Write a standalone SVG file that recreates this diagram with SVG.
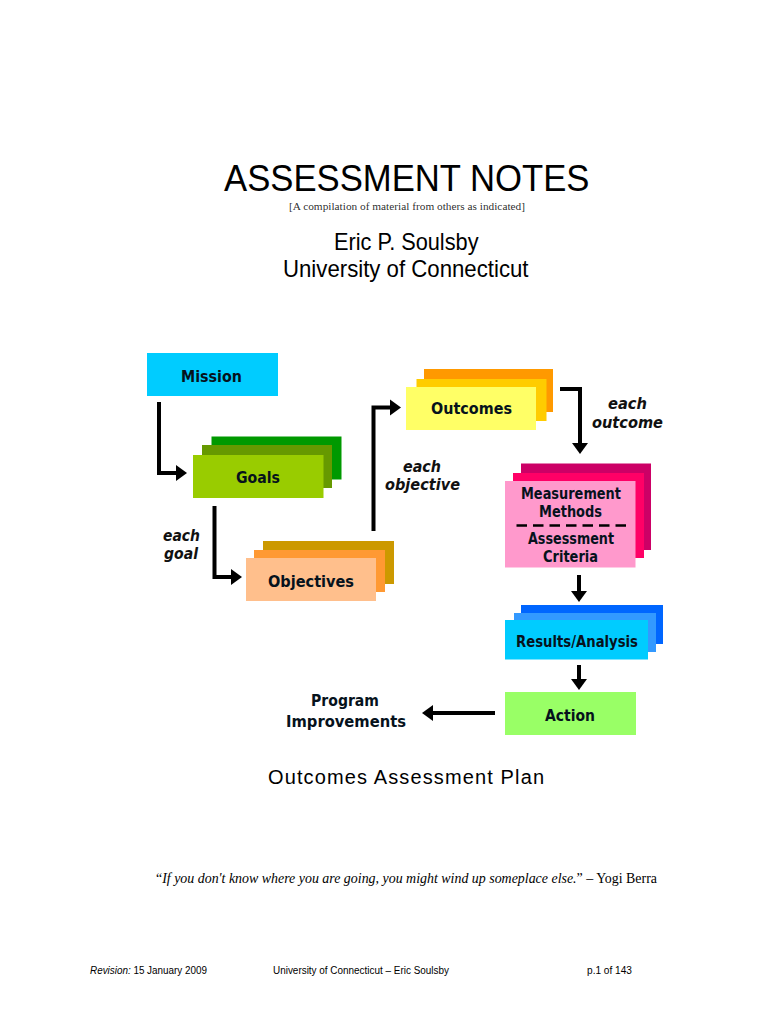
<svg xmlns="http://www.w3.org/2000/svg" width="768" height="1024" viewBox="0 0 768 1024">
<style>
.s{font-family:"Liberation Sans",Arial,sans-serif;fill:#000}
.t{font-family:"Liberation Serif","Times New Roman",serif;fill:#000}
.l{font-family:"DejaVu Sans",Verdana,sans-serif;font-weight:700;font-size:15px;fill:#06121c;text-anchor:middle}
.e{font-family:"DejaVu Sans",Verdana,sans-serif;font-weight:700;font-style:italic;font-size:15px;fill:#111;text-anchor:middle}
.c{fill:none;stroke:#000;stroke-width:4}
</style>
<defs><marker id="a" markerUnits="userSpaceOnUse" markerWidth="12" markerHeight="18" refX="1" refY="9" orient="auto"><path d="M0 1L11 9L0 17Z" fill="#000"/></marker></defs>
<rect width="768" height="1024" fill="#fff"/>
<g id="page-text">
<text class="s" x="224" y="191" font-size="36" textLength="365.500" lengthAdjust="spacingAndGlyphs">ASSESSMENT NOTES</text>
<text class="t" x="289" y="210" font-size="11" fill-opacity=".85" textLength="236" lengthAdjust="spacingAndGlyphs">[A compilation of material from others as indicated]</text>
<text class="s" x="334" y="250" font-size="24" textLength="144.500" lengthAdjust="spacingAndGlyphs">Eric P. Soulsby</text>
<text class="s" x="283" y="277" font-size="24" textLength="245.500" lengthAdjust="spacingAndGlyphs">University of Connecticut</text>
<text class="s" x="268" y="784" font-size="20" textLength="276">Outcomes Assessment Plan</text>
<text class="t" x="156" y="883" font-size="14" textLength="501" lengthAdjust="spacingAndGlyphs">“<tspan font-style="italic">If you don't know where you are going, you might wind up someplace else.</tspan>” – Yogi Berra</text>
<text class="s" x="90" y="974" font-size="10" textLength="117" lengthAdjust="spacingAndGlyphs"><tspan font-style="italic">Revision:</tspan> 15 January 2009</text>
<text class="s" x="273" y="974" font-size="10" textLength="176" lengthAdjust="spacingAndGlyphs">University of Connecticut – Eric Soulsby</text>
<text class="s" x="587" y="974" font-size="10" textLength="45" lengthAdjust="spacingAndGlyphs">p.1 of 143</text>
</g>
<g id="connectors">
<path class="c" d="M159 402V473H177" marker-end="url(#a)"/>
<path class="c" d="M214.500 506V577H232" marker-end="url(#a)"/>
<path class="c" d="M373.500 531V407.500H391" marker-end="url(#a)"/>
<path class="c" d="M560 389H580V444" marker-end="url(#a)"/>
<path class="c" d="M579 575V592" marker-end="url(#a)"/>
<path class="c" d="M579 665V680" marker-end="url(#a)"/>
<path class="c" d="M495 713H432" marker-end="url(#a)"/>
</g>
<g id="mission"><rect x="147" y="353" width="131" height="43" fill="#00ccff"/><text class="l" x="211.500" y="381.500" textLength="61" lengthAdjust="spacingAndGlyphs">Mission</text></g>
<g id="goals"><rect x="211.500" y="436.500" width="130" height="43" fill="#009900"/><rect x="202" y="445" width="130" height="43" fill="#669900"/><rect x="193" y="455" width="130.500" height="43" fill="#99cc00"/><text class="l" x="258" y="482.500" textLength="44" lengthAdjust="spacingAndGlyphs">Goals</text></g>
<g id="objectives"><rect x="263" y="541" width="131" height="43" fill="#cc9900"/><rect x="254" y="550" width="131" height="42" fill="#ff9933"/><rect x="246" y="558" width="130" height="43" fill="#ffbf8c"/><text class="l" x="311" y="587" textLength="86" lengthAdjust="spacingAndGlyphs">Objectives</text></g>
<g id="outcomes"><rect x="424" y="369" width="129" height="43" fill="#ff9900"/><rect x="416.500" y="379" width="130" height="42" fill="#ffcc00"/><rect x="406" y="387" width="130" height="43" fill="#ffff66"/><text class="l" x="471.500" y="414" textLength="81" lengthAdjust="spacingAndGlyphs">Outcomes</text></g>
<g id="measurement"><rect x="521" y="463.500" width="130" height="86.500" fill="#cc0066"/><rect x="513" y="473" width="131" height="85" fill="#ff0066"/><rect x="505" y="481" width="130.500" height="86.500" fill="#ff99cc"/>
<text class="l" x="571" y="499" textLength="100" lengthAdjust="spacingAndGlyphs">Measurement</text><text class="l" x="570.500" y="517" textLength="63" lengthAdjust="spacingAndGlyphs">Methods</text>
<path d="M516.500 525.500H626" stroke="#000" stroke-width="2.500" stroke-dasharray="10.500 6"/>
<text class="l" x="571" y="544" textLength="86" lengthAdjust="spacingAndGlyphs">Assessment</text><text class="l" x="570.500" y="562" textLength="55" lengthAdjust="spacingAndGlyphs">Criteria</text></g>
<g id="results"><rect x="521" y="605" width="142" height="39" fill="#0066ff"/><rect x="514" y="613" width="142" height="39" fill="#3399ff"/><rect x="505" y="620" width="143" height="39.500" fill="#00ccff"/><text class="l" x="577" y="647" textLength="122" lengthAdjust="spacingAndGlyphs">Results/Analysis</text></g>
<g id="action"><rect x="505" y="692" width="131" height="43" fill="#99ff66"/><text class="l" x="570" y="721" textLength="50" lengthAdjust="spacingAndGlyphs">Action</text></g>
<g id="improvements"><text class="l" x="345" y="706" textLength="68" lengthAdjust="spacingAndGlyphs">Program</text><text class="l" x="346" y="727" textLength="120" lengthAdjust="spacingAndGlyphs">Improvements</text></g>
<g id="labels">
<text class="e" x="181.500" y="541" textLength="37" lengthAdjust="spacingAndGlyphs">each</text><text class="e" x="181" y="558.500" textLength="34" lengthAdjust="spacingAndGlyphs">goal</text>
<text class="e" x="422" y="472" textLength="38" lengthAdjust="spacingAndGlyphs">each</text><text class="e" x="422.500" y="490" textLength="75" lengthAdjust="spacingAndGlyphs">objective</text>
<text class="e" x="627.500" y="409" textLength="39" lengthAdjust="spacingAndGlyphs">each</text><text class="e" x="627.500" y="427.500" textLength="71" lengthAdjust="spacingAndGlyphs">outcome</text>
</g>
</svg>
